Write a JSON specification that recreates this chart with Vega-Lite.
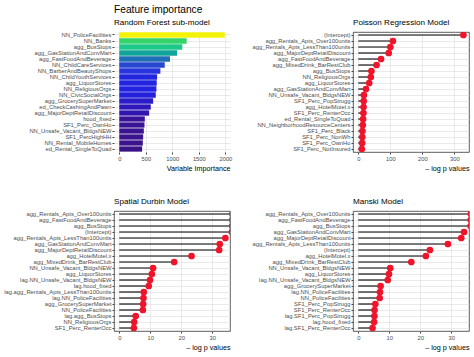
{
  "$schema": "https://vega.github.io/schema/vega-lite/v6.json",
  "padding": {"left": 3, "top": 5, "right": 3, "bottom": 2},
  "background": "white",
  "columns": 2,
  "bounds": "flush",
  "spacing": {"row": 59, "column": 123},
  "config": {
    "font": "Liberation Sans",
    "view": {"stroke": "#333333", "strokeWidth": 0.8},
    "axis": {"labelFont": "Liberation Sans", "labelFontSize": 5.8, "labelColor": "#4d4d4d", "tickColor": "#444444", "tickSize": 2, "labelPadding": 1, "domain": false, "gridColor": "#dcdcdc", "gridWidth": 0.6, "titleFont": "Liberation Sans", "titleFontWeight": "normal", "titleFontSize": 7.2, "titleColor": "#000000", "titlePadding": 4},
    "title": {"anchor": "start", "frame": "group", "font": "Liberation Sans", "fontWeight": "normal", "fontSize": 8.1, "color": "#000000", "offset": 4}
  },
  "datasets": {
    "rf": [
      {"feature": "NN_PoliceFacilities", "importance": 1988},
      {"feature": "NN_Banks", "importance": 1270},
      {"feature": "agg_BusStops", "importance": 1188},
      {"feature": "agg_GasStationAndConvMart", "importance": 1088},
      {"feature": "agg_FastFoodAndBeverage", "importance": 956},
      {"feature": "NN_ChildCareServices", "importance": 857},
      {"feature": "NN_BarberAndBeautyShops", "importance": 775},
      {"feature": "NN_ChildYouthServices", "importance": 713},
      {"feature": "agg_LiquorStores", "importance": 706},
      {"feature": "NN_ReligiousOrgs", "importance": 700},
      {"feature": "NN_CivicSocialOrgs", "importance": 688},
      {"feature": "agg_GrocerySuperMarket", "importance": 638},
      {"feature": "ed_CheckCashingAndPawn", "importance": 594},
      {"feature": "agg_MajorDeptRetailDiscount", "importance": 563},
      {"feature": "hood_fixed", "importance": 482},
      {"feature": "SF1_Perc_OwnHo", "importance": 475},
      {"feature": "NN_Unsafe_Vacant_BldgsNEW", "importance": 463},
      {"feature": "SF1_PercHighHH", "importance": 450},
      {"feature": "NN_Rental_MobileHomes", "importance": 444},
      {"feature": "ed_Rental_SingleToQuad", "importance": 431}
    ],
    "pois": [
      {"term": "(Intercept)", "v": 328},
      {"term": "agg_Rentals_Apts_Over100units", "v": 108},
      {"term": "agg_Rentals_Apts_LessThan100units", "v": 100},
      {"term": "agg_MajorDeptRetailDiscount", "v": 95},
      {"term": "agg_FastFoodAndBeverage", "v": 71},
      {"term": "agg_MixedDrink_BarRestClub", "v": 57},
      {"term": "agg_BusStops", "v": 41},
      {"term": "NN_ReligiousOrgs", "v": 39},
      {"term": "agg_LiquorStores", "v": 34},
      {"term": "agg_GasStationAndConvMart", "v": 24},
      {"term": "NN_Unsafe_Vacant_BldgsNEW", "v": 17.5},
      {"term": "SF1_Perc_PopStrugg", "v": 17},
      {"term": "agg_HotelMotel.x", "v": 16.5},
      {"term": "SF1_Perc_RenterOcc", "v": 16},
      {"term": "ed_Rental_SingleToQuad", "v": 15},
      {"term": "NN_NeighborhoodResourceCenters", "v": 14},
      {"term": "SF1_Perc_Black", "v": 13},
      {"term": "SF1_Perc_NonWh", "v": 12.5},
      {"term": "SF1_Perc_OwnHo", "v": 12},
      {"term": "SF1_Perc_NotInsured", "v": 11}
    ],
    "durbin": [
      {"term": "agg_Rentals_Apts_Over100units", "v": 36.5},
      {"term": "agg_FastFoodAndBeverage", "v": 36.45},
      {"term": "agg_BusStops", "v": 36.4},
      {"term": "(Intercept)", "v": 36.3},
      {"term": "agg_Rentals_Apts_LessThan100units", "v": 34.2},
      {"term": "agg_GasStationAndConvMart", "v": 32.4},
      {"term": "agg_MajorDeptRetailDiscount", "v": 32.2},
      {"term": "agg_HotelMotel.x", "v": 23.3},
      {"term": "agg_MixedDrink_BarRestClub", "v": 17.7},
      {"term": "NN_Unsafe_Vacant_BldgsNEW", "v": 10.9},
      {"term": "agg_LiquorStores", "v": 10.5},
      {"term": "lag.NN_Unsafe_Vacant_BldgsNEW", "v": 9.9},
      {"term": "lag.hood_fixed", "v": 9.5},
      {"term": "lag.agg_Rentals_Apts_LessThan100units", "v": 7.9},
      {"term": "lag.NN_PoliceFacilities", "v": 7.8},
      {"term": "agg_GrocerySuperMarket", "v": 7.7},
      {"term": "NN_PoliceFacilities", "v": 7.6},
      {"term": "lag.agg_BusStops", "v": 5.3},
      {"term": "NN_ReligiousOrgs", "v": 4.8},
      {"term": "SF1_Perc_RenterOcc", "v": 4.7}
    ],
    "manski": [
      {"term": "agg_Rentals_Apts_Over100units", "v": 36.3},
      {"term": "agg_FastFoodAndBeverage", "v": 36.25},
      {"term": "agg_BusStops", "v": 36.2},
      {"term": "agg_GasStationAndConvMart", "v": 34.1},
      {"term": "agg_MajorDeptRetailDiscount", "v": 33.2},
      {"term": "agg_Rentals_Apts_LessThan100units", "v": 28.9},
      {"term": "(Intercept)", "v": 23.1},
      {"term": "agg_HotelMotel.x", "v": 21.8},
      {"term": "agg_MixedDrink_BarRestClub", "v": 17.1},
      {"term": "NN_Unsafe_Vacant_BldgsNEW", "v": 10.3},
      {"term": "agg_LiquorStores", "v": 9.9},
      {"term": "lag.NN_Unsafe_Vacant_BldgsNEW", "v": 9.5},
      {"term": "agg_GrocerySuperMarket", "v": 7.2},
      {"term": "lag.NN_PoliceFacilities", "v": 7.0},
      {"term": "NN_PoliceFacilities", "v": 6.9},
      {"term": "SF1_Perc_PopStrugg", "v": 5.5},
      {"term": "SF1_Perc_RenterOcc", "v": 5.25},
      {"term": "lag.SF1_Perc_PopStrugg", "v": 5.2},
      {"term": "lag.hood_fixed", "v": 5.1},
      {"term": "lag.SF1_Perc_RenterOcc", "v": 4.6}
    ]
  },
  "concat": [
    {
      "title": {"text": "Feature importance", "subtitle": "Random Forest sub-model", "fontSize": 10.2, "subtitleFont": "Liberation Sans", "subtitleFontSize": 8.1, "subtitleColor": "#000000", "subtitlePadding": 4},
      "width": 116, "height": 120,
      "view": {"stroke": null},
      "data": {"name": "rf"},
      "mark": {"type": "bar"},
      "encoding": {
        "y": {"field": "feature", "type": "nominal", "sort": "-x", "title": null, "scale": {"paddingInner": 0.12, "paddingOuter": 0.06}, "axis": {"grid": true}},
        "x": {"field": "importance", "type": "quantitative", "scale": {"domain": [-99, 2087], "nice": false, "zero": false}, "axis": {"values": [0, 500, 1000, 1500, 2000], "format": "d", "title": "Variable Importance", "titleAnchor": "end"}},
        "color": {"field": "importance", "type": "quantitative", "legend": null, "scale": {"domain": [430, 560, 700, 780, 860, 956, 1088, 1188, 1270, 1988], "range": ["#3b1388", "#3015b0", "#2222e0", "#2a35dc", "#2648cf", "#1f6fb5", "#12a39b", "#1ec88a", "#35d46a", "#f5f20a"]}}
      }
    },
    {
      "title": "Poisson Regression Model",
      "width": 116, "height": 120,
      "data": {"name": "pois"},
      "encoding": {
        "y": {"field": "term", "type": "nominal", "sort": {"field": "v", "order": "descending"}, "title": null, "axis": {"grid": true}},
        "x": {"field": "v", "type": "quantitative", "scale": {"domain": [-16.5, 345.5], "nice": false, "zero": false}, "axis": {"values": [0, 100, 200, 300], "title": "– log p values", "titleAnchor": "end"}}
      },
      "layer": [
        {"mark": {"type": "rule", "color": "#000000", "strokeWidth": 1.1, "clip": true}, "encoding": {"x2": {"datum": 0}}},
        {"mark": {"type": "circle", "color": "#f0142a", "size": 45, "opacity": 1, "clip": true}}
      ]
    },
    {
      "title": "Spatial Durbin Model",
      "width": 116, "height": 120,
      "data": {"name": "durbin"},
      "encoding": {
        "y": {"field": "term", "type": "nominal", "sort": {"field": "v", "order": "descending"}, "title": null, "axis": {"grid": true}},
        "x": {"field": "v", "type": "quantitative", "scale": {"domain": [-1.7, 35.7], "nice": false, "zero": false}, "axis": {"values": [0, 10, 20, 30], "title": "– log p values", "titleAnchor": "end"}}
      },
      "layer": [
        {"mark": {"type": "rule", "color": "#000000", "strokeWidth": 1.1, "clip": true}, "encoding": {"x2": {"datum": 0}}},
        {"mark": {"type": "circle", "color": "#f0142a", "size": 45, "opacity": 1, "clip": true}}
      ]
    },
    {
      "title": "Manski Model",
      "width": 116, "height": 120,
      "data": {"name": "manski"},
      "encoding": {
        "y": {"field": "term", "type": "nominal", "sort": {"field": "v", "order": "descending"}, "title": null, "axis": {"grid": true}},
        "x": {"field": "v", "type": "quantitative", "scale": {"domain": [-1.7, 35.7], "nice": false, "zero": false}, "axis": {"values": [0, 10, 20, 30], "title": "– log p values", "titleAnchor": "end"}}
      },
      "layer": [
        {"mark": {"type": "rule", "color": "#000000", "strokeWidth": 1.1, "clip": true}, "encoding": {"x2": {"datum": 0}}},
        {"mark": {"type": "circle", "color": "#f0142a", "size": 45, "opacity": 1, "clip": true}}
      ]
    }
  ]
}
